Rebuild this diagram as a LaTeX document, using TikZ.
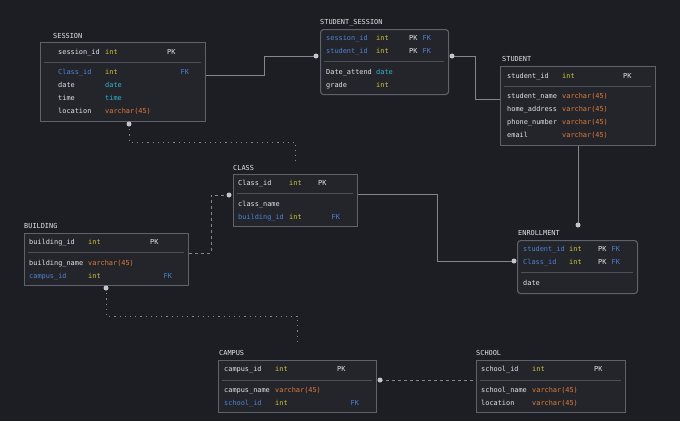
\documentclass[tikz,border=0pt]{standalone}
\usepackage{fontspec}
\setmonofont{DejaVu Sans Mono}
\usetikzlibrary{calc}
\definecolor{bg}{HTML}{1D1E23}
\definecolor{boxfill}{HTML}{23252B}
\definecolor{border}{HTML}{5E626C}
\definecolor{sepc}{HTML}{4C505A}
\definecolor{fg}{HTML}{E2E3E6}
\definecolor{intc}{HTML}{D2C53C}
\definecolor{datec}{HTML}{33B5D2}
\definecolor{varc}{HTML}{E07B3A}
\definecolor{fkc}{HTML}{4E82D6}
\definecolor{link}{HTML}{83868E}
\definecolor{pinc}{HTML}{C4C6CC}
% column positions of the current table: name x, type offset, key x
\newcommand\cols[3]{\def\cx{#1}\def\wn{#2}\def\ck{#3}}
% one row: id, y, name colour, name, type colour, type
\newcommand\erow[6]{%
  \node[fld,text=#3] (#1) at (\cx,#2) {#4};
  \node[fld,text=#5] (#1-type) at (\cx+\wn,#2) {#6};}
\newcommand\pk[2]{\node[fld] (#1-pk) at (\ck,#2) {PK};}
\newcommand\fk[2]{\node[fld,text=fkc] (#1-fk) at (\ck+13.5,#2) {FK};}

\begin{document}
\begin{tikzpicture}[x=1pt,y=-1pt,font=\ttfamily\fontsize{6.9}{8}\selectfont]
\tikzstyle{tbl}=[draw=border, fill=boxfill, line width=1.1pt, rectangle, anchor=north west, inner sep=0]
\tikzstyle{fld}=[anchor=west, inner sep=0, text=fg, text height=5pt, text depth=0pt]
\tikzstyle{sep}=[draw=sepc, line width=0.9pt]
\tikzstyle{rel}=[draw=link, line width=1pt]
\tikzstyle{dotline}=[dash pattern=on 1.2pt off 4pt]
\tikzstyle{dashline}=[dash pattern=on 3pt off 3pt]
\tikzstyle{pin}=[fill=pinc, circle, inner sep=0, minimum size=5pt]

\useasboundingbox (0,0) rectangle (680,421);
\fill[bg] (0,0) rectangle (680,421);

% SESSION
\node[fld] (session-t) at (53,36) {SESSION};
\node[tbl, minimum width=165pt, minimum height=79pt] (session) at (40,42) {};
\draw[sep] (44,62) -- (201,62);
\cols{58}{47}{167}
\erow{session-1}{52}{fg}{session\_id}{intc}{int} \pk{session-1}{52}
\erow{session-2}{72}{fkc}{Class\_id}{intc}{int} \fk{session-2}{72}
\erow{session-3}{85}{fg}{date}{datec}{date}
\erow{session-4}{98}{fg}{time}{datec}{time}
\erow{session-5}{111}{fg}{location}{varc}{varchar(45)}

% STUDENT_SESSION
\node[fld] (stsession-t) at (320,22) {STUDENT\_SESSION};
\node[tbl, rounded corners=3pt, minimum width=128pt, minimum height=65pt] (stsession) at (320,29) {};
\draw[sep] (324,61) -- (444,61);
\cols{326}{50}{409}
\erow{stsession-1}{38}{fkc}{session\_id}{intc}{int} \pk{stsession-1}{38} \fk{stsession-1}{38}
\erow{stsession-2}{51}{fkc}{student\_id}{intc}{int} \pk{stsession-2}{51} \fk{stsession-2}{51}
\erow{stsession-3}{72}{fg}{Date\_attend}{datec}{date}
\erow{stsession-4}{85}{fg}{grade}{intc}{int}

% STUDENT
\node[fld] (student-t) at (502,59) {STUDENT};
\node[tbl, minimum width=155pt, minimum height=79pt] (student) at (500,66) {};
\draw[sep] (504,86) -- (651,86);
\cols{507}{55}{623}
\erow{student-1}{76}{fg}{student\_id}{intc}{int} \pk{student-1}{76}
\erow{student-2}{96}{fg}{student\_name}{varc}{varchar(45)}
\erow{student-3}{109}{fg}{home\_address}{varc}{varchar(45)}
\erow{student-4}{122}{fg}{phone\_number}{varc}{varchar(45)}
\erow{student-5}{135}{fg}{email}{varc}{varchar(45)}

% CLASS
\node[fld] (class-t) at (233,168) {CLASS};
\node[tbl, minimum width=124pt, minimum height=52pt] (class) at (233,174) {};
\draw[sep] (237,193) -- (353,193);
\cols{238}{51}{318}
\erow{class-1}{183}{fg}{Class\_id}{intc}{int} \pk{class-1}{183}
\node[fld] (class-2) at (238,204) {class\_name};
\erow{class-3}{217}{fkc}{building\_id}{intc}{int} \fk{class-3}{217}

% BUILDING
\node[fld] (building-t) at (24,226) {BUILDING};
\node[tbl, minimum width=164pt, minimum height=52pt] (building) at (24,233) {};
\draw[sep] (28,252) -- (184,252);
\cols{29}{59}{150}
\erow{building-1}{242}{fg}{building\_id}{intc}{int} \pk{building-1}{242}
\erow{building-2}{263}{fg}{building\_name}{varc}{varchar(45)}
\erow{building-3}{276}{fkc}{campus\_id}{intc}{int} \fk{building-3}{276}

% ENROLLMENT
\node[fld] (enroll-t) at (518,233) {ENROLLMENT};
\node[tbl, rounded corners=3pt, minimum width=120pt, minimum height=53pt] (enroll) at (517,240) {};
\draw[sep] (521,272) -- (633,272);
\cols{523}{46}{598}
\erow{enroll-1}{249}{fkc}{student\_id}{intc}{int} \pk{enroll-1}{249} \fk{enroll-1}{249}
\erow{enroll-2}{262}{fkc}{Class\_id}{intc}{int} \pk{enroll-2}{262} \fk{enroll-2}{262}
\node[fld] (enroll-3) at (523,283) {date};

% CAMPUS
\node[fld] (campus-t) at (219,353) {CAMPUS};
\node[tbl, minimum width=158pt, minimum height=52pt] (campus) at (218,360) {};
\draw[sep] (222,380) -- (372,380);
\cols{224}{51}{337}
\erow{campus-1}{369}{fg}{campus\_id}{intc}{int} \pk{campus-1}{369}
\erow{campus-2}{390}{fg}{campus\_name}{varc}{varchar(45)}
\erow{campus-3}{403}{fkc}{school\_id}{intc}{int} \fk{campus-3}{403}

% SCHOOL
\node[fld] (school-t) at (476,353) {SCHOOL};
\node[tbl, minimum width=149pt, minimum height=52pt] (school) at (476,360) {};
\draw[sep] (480,380) -- (621,380);
\cols{481}{51}{594}
\erow{school-1}{369}{fg}{school\_id}{intc}{int} \pk{school-1}{369}
\erow{school-2}{390}{fg}{school\_name}{varc}{varchar(45)}
\erow{school-3}{403}{fg}{location}{varc}{varchar(45)}

% relations
\coordinate (d1) at (316,56);
\coordinate (d2) at (452,56);
\coordinate (d3) at (578,225);
\coordinate (d4) at (514,261);
\coordinate (d5) at (129,124);
\coordinate (d6) at (229,195);
\coordinate (d7) at (106,288);
\coordinate (d8) at (380,380);

\draw[rel] ($(session.north east)+(0,33)$) -- ++(58,0) |- (d1);
\draw[rel] (d2) -| ($(student.north west)+(-25,33)$) -- ($(student.north west)+(0,33)$);
\draw[rel] (d3 |- student.south) -- (d3);
\draw[rel] ($(class.north east)+(0,20)$) -| ($(d4)+(-77,0)$) -- (d4);
\draw[rel,dotline] (d5) -- ++(0,18) -| ($(class.north)+(0,-12)$);
\draw[rel,dashline] ($(building.north east)+(0,20)$) -| ($(d6)+(-18,0)$) -- (d6);
\draw[rel,dotline] (d7) -- ++(0,28) -| ($(campus.north)+(0,-15)$);
\draw[rel,dashline] (d8) -- (school.west |- d8);

\foreach \d in {d1,d2,d3,d4,d5,d6,d7,d8}
  \node[pin] at (\d) {};

\end{tikzpicture}
\end{document}
